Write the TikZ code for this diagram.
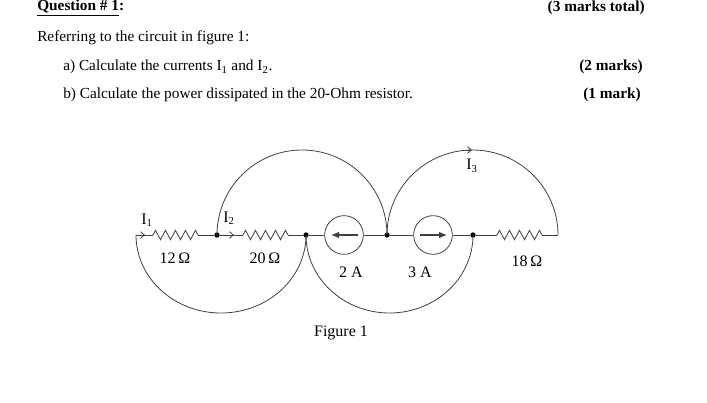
\documentclass[tikz,border=0pt]{standalone}
\usepackage{fontspec}
\setmainfont{Liberation Serif}
\usetikzlibrary{arrows.meta,decorations.pathmorphing}
\begin{document}
\begin{tikzpicture}[x=0.75pt,y=-0.75pt,
  wire/.style={draw=black!75,line width=0.6pt},
  dot/.style={circle,fill=black,inner sep=0pt,minimum size=4pt},
  txt/.style={font=\fontsize{11.5}{13}\selectfont,inner sep=0pt},
  lbl/.style={font=\fontsize{12}{13}\selectfont,inner sep=0pt},
  res/.style={wire,decorate,decoration={zigzag,segment length=7.5pt,amplitude=3.5pt}},
  src/.style={circle,draw=black!75,line width=0.6pt,minimum size=29pt,inner sep=0pt},
  cur/.style={wire,-{Straight Barb[length=3pt,width=5pt]}}]
\useasboundingbox (0,0) rectangle (707,403);
\node[txt,anchor=west,font=\fontsize{11.5}{13}\selectfont\bfseries] (q) at (37,8) {\underline{Question \# 1}:};
\node[txt,anchor=east,font=\fontsize{11.5}{13}\selectfont\bfseries] (qm) at (645,8) {(3 marks total)};
\node[txt,anchor=west] (r) at (37,38) {Referring to the circuit in figure 1:};
\node[txt,anchor=west] (a) at (63,67) {a) Calculate the currents I\textsubscript{1} and I\textsubscript{2}.};
\node[txt,anchor=east,font=\fontsize{11.5}{13}\selectfont\bfseries] (am) at (643,67) {(2 marks)};
\node[txt,anchor=west] (b) at (63,95) {b) Calculate the power dissipated in the 20-Ohm resistor.};
\node[txt,anchor=east,font=\fontsize{11.5}{13}\selectfont\bfseries] (bm) at (641,95) {(1 mark)};
% circuit
\coordinate (L) at (136,235);
\coordinate (r1a) at (153,235); \coordinate (r1b) at (198,235);
\node[dot] (A) at (217,235) {};
\coordinate (r2a) at (243,235); \coordinate (r2b) at (288,235);
\node[dot] (B) at (306,235) {};
\node[src] (S2) at (344,235) {};
\node[dot] (C) at (387,235) {};
\node[src] (S3) at (433,235) {};
\node[dot] (D) at (473,235) {};
\coordinate (r3a) at (497,235); \coordinate (r3b) at (542,235);
\coordinate (R) at (558,235);
\draw[wire] (L) -- (r1a); \draw[res] (r1a) -- (r1b); \draw[wire] (r1b) -- (A) -- (r2a);
\draw[res] (r2a) -- (r2b); \draw[wire] (r2b) -- (B) -- (S2); \draw[wire] (S2) -- (C) -- (S3);
\draw[wire] (S3) -- (D) -- (r3a); \draw[res] (r3a) -- (r3b); \draw[wire] (r3b) -- (R);
% source arrows
\draw[wire,-{Latex[length=6pt,width=5pt]},line width=0.8pt] (358,235) -- (331,235);
\draw[wire,-{Latex[length=6pt,width=5pt]},line width=0.8pt] (420,235) -- (447,235);
% arcs
\draw[wire] (A.center) arc[start angle=180,end angle=360,x radius=85,y radius=85];
\draw[wire] (C.center) arc[start angle=180,end angle=360,x radius=85.5,y radius=85];
\draw[wire] (L) arc[start angle=180,end angle=0,x radius=85,y radius=78];
\draw[wire] (B.center) arc[start angle=180,end angle=0,x radius=83.5,y radius=78];
% current arrows
\draw[cur] (139,235) -- (145,235);
\draw[cur] (228,235) -- (234,235);
\draw[cur] (466,150) -- (472,150);
\node[lbl] (i1) at (147,220) {I\textsubscript{1}};
\node[lbl] (i2) at (229,218) {I\textsubscript{2}};
\node[lbl] (i3) at (472,166) {I\textsubscript{3}};
\node[lbl] (l12) at (175,258) {12\,Ω};
\node[lbl] (l20) at (265,258) {20\,Ω};
\node[lbl] (l2a) at (351,272) {2 A};
\node[lbl] (l3a) at (420,272) {3 A};
\node[lbl] (l18) at (527,261) {18\,Ω};
\node[lbl] (fig) at (341,333) {Figure 1};
\end{tikzpicture}
\end{document}
